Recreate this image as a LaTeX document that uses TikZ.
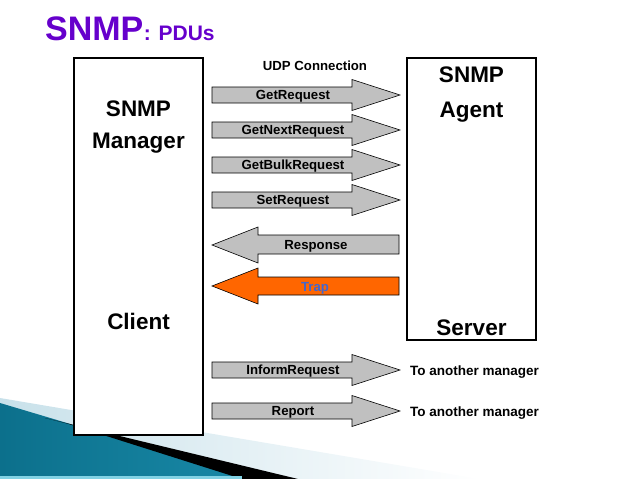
\documentclass[tikz,border=0pt]{standalone}
\usepackage{fontspec}
\setmainfont{Liberation Sans}
\definecolor{titlepurple}{RGB}{102,0,204}
\definecolor{arrowgray}{RGB}{192,192,192}
\definecolor{traporange}{RGB}{255,102,0}
\definecolor{trapblue}{RGB}{68,102,204}
\definecolor{tealdark}{RGB}{12,112,140}
\definecolor{teallight}{RGB}{70,180,212}
\definecolor{tealmid}{RGB}{24,136,166}
\definecolor{paleblue}{RGB}{200,225,234}
\definecolor{stripcyan}{RGB}{130,210,228}
\begin{document}
\begin{tikzpicture}[x=1pt,y=-1pt,
  lbl/.style={font=\bfseries\fontsize{13.2}{15}\selectfont, anchor=base, inner sep=0pt},
  side/.style={font=\bfseries\fontsize{13.5}{15}\selectfont, anchor=base west, inner sep=0pt},
  big/.style={font=\bfseries\fontsize{22.5}{26}\selectfont, anchor=base, inner sep=0pt},
  panel/.style={draw=black, line width=1.1pt, fill=white, inner sep=0pt, outer sep=0pt, anchor=north west, minimum width=129pt},
  garrow/.style={draw=black, line width=0.6pt, fill=arrowgray},
  oarrow/.style={draw=black, line width=0.6pt, fill=traporange}]
\useasboundingbox (0,0) rectangle (638,479);
% background decoration
\shade[left color=paleblue, right color=white] (0,398) -- (480,479) -- (0,479) -- cycle;
\shade[left color=tealdark, middle color=teallight, right color=tealmid] (0,403) -- (67,423) -- (245,479) -- (0,479) -- cycle;
\fill[black] (45,418) -- (298,479) -- (242,479) -- (67,423.5) -- cycle;
\fill[stripcyan] (0,476) rectangle (242,479);
% title
\node[anchor=base west, inner sep=0pt, text=titlepurple, font=\bfseries\fontsize{34}{38}\selectfont] (title) at (45,41) {SNMP};
\node[anchor=base west, inner sep=0pt, text=titlepurple, font=\bfseries\fontsize{21}{24}\selectfont] (subtitle) at (title.base east) {: PDUs};
% panels
\node[panel, minimum height=377pt] (mgr) at (74,58) {};
\node[panel, minimum height=282pt] (agt) at (407,58) {};
\node[big] (snmpL) at (138.5,116) {SNMP};
\node[big] (manager) at (138.5,148) {Manager};
\node[big] (client) at (138.5,329) {Client};
\node[big] (snmpR) at (471.5,82) {SNMP};
\node[big] (agent) at (471.5,117) {Agent};
\node[big] (server) at (471.5,335) {Server};
\node[lbl] (udp) at (315,70.5) {UDP Connection};
% right-pointing arrows
\foreach \yy/\name/\txt in {95/getreq/GetRequest, 130/getnext/GetNextRequest, 165/getbulk/GetBulkRequest, 200/setreq/SetRequest, 370/inform/InformRequest, 411/report/Report}{
  \draw[garrow] (212,\yy-8) -- (352,\yy-8) -- (352,\yy-15.5) -- (400,\yy) -- (352,\yy+15.5) -- (352,\yy+8) -- (212,\yy+8) -- cycle;
  \node[lbl] (\name) at (293,\yy+4.7) {\txt};
}
% left-pointing arrows
\draw[garrow] (399,235) -- (258,235) -- (258,227) -- (212,245) -- (258,263) -- (258,254) -- (399,254) -- cycle;
\node[lbl] (response) at (316,249.5) {Response};
\draw[oarrow] (399,277) -- (258,277) -- (258,268) -- (212,286) -- (258,304) -- (258,295) -- (399,295) -- cycle;
\node[lbl, text=trapblue] (trap) at (315,291) {Trap};
% side notes
\node[side] (note1) at (410,375) {To another manager};
\node[side] (note2) at (410,416) {To another manager};
\end{tikzpicture}
\end{document}
